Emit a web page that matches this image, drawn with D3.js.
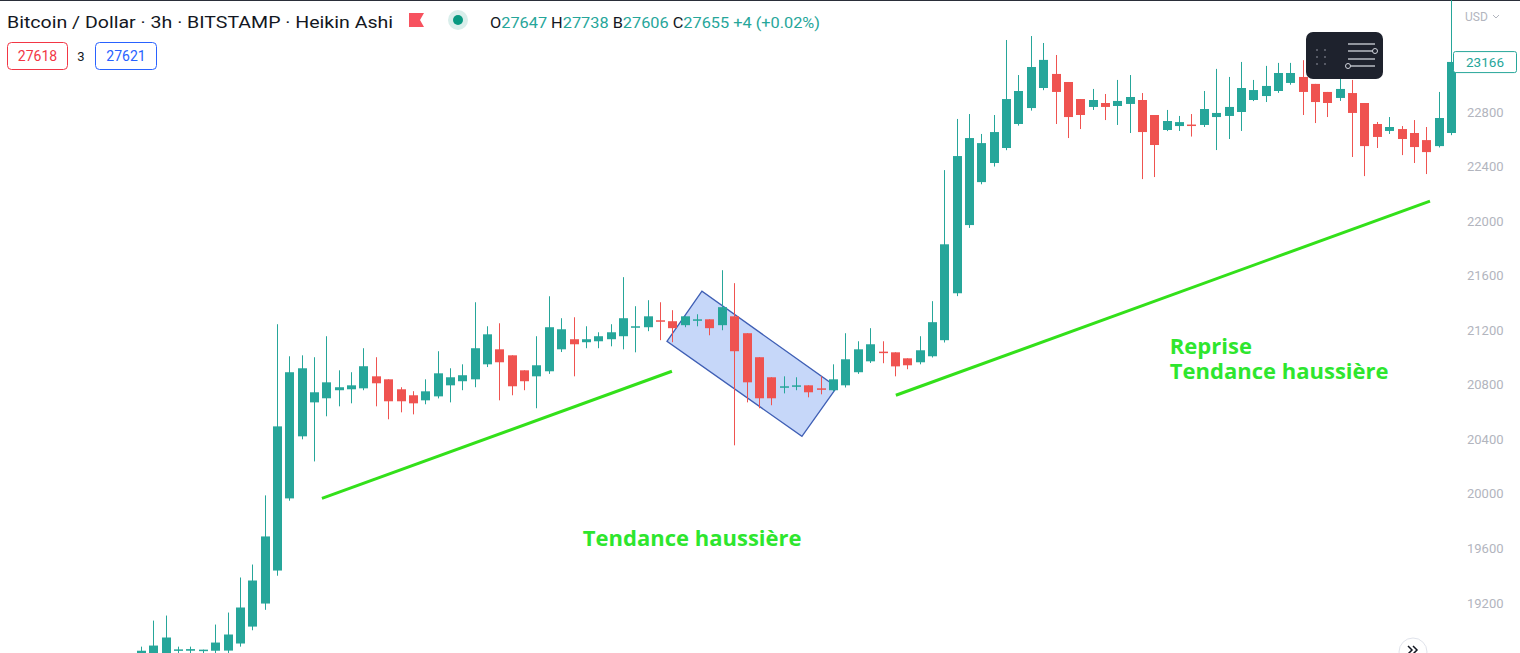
<!DOCTYPE html>
<html><head><meta charset="utf-8">
<script src="https://cdn.jsdelivr.net/npm/d3@7"></script>
<style>body{margin:0;background:#fff;font-family:"Open Sans",Roboto,sans-serif}</style>
</head><body><svg id="c" width="1520" height="653"></svg>
<script>
// Heikin Ashi candles: [open, close, high, low]
const opens  = [18800,18820,18830,18850,18850,18850,18850,18851,18903,19027,19196,19438,19967,20422,20671,20701,20760,20767,20774,20862,20840,20767,20723,20686,20715,20796,20826,20840,20950,21060,21016,20906,20862,20899,21060,21134,21112,21119,21134,21156,21222,21222,21273,21266,21237,21273,21280,21237,21302,21178,21002,20855,20782,20789,20796,20774,20760,20796,20892,20972,21043,21038,20994,20965,21009,21127,21471,21971,22286,22426,22536,22712,22829,22976,23079,23020,22895,22837,22866,22844,22859,22888,22778,22668,22697,22708,22705,22763,22771,22800,22888,22917,22954,23013,23057,23006,22947,22903,22939,22866,22712,22661,22675,22646,22594,22550,22646];
const closes = [18850,18888,18947,18860,18862,18858,18910,18969,19167,19365,19688,20495,20892,20921,20745,20818,20782,20796,20936,20811,20679,20679,20664,20752,20884,20855,20870,21068,21170,20965,20789,20826,20943,21222,21207,21097,21134,21156,21185,21288,21229,21302,21266,21215,21302,21280,21215,21369,21046,20818,20701,20701,20789,20796,20745,20767,20840,20987,21060,21097,21036,20935,20943,21053,21259,21830,22477,22609,22572,22653,22895,22954,23130,23182,22947,22763,22778,22888,22837,22881,22910,22653,22558,22734,22726,22700,22822,22793,22837,22976,22961,22991,23086,23086,22947,22873,22866,22969,22793,22550,22617,22690,22602,22543,22506,22756,23167];
const highs  = [18880,19071,19108,18880,18880,18858,19042,19130,19387,19482,19989,21244,21009,21016,21002,21156,20906,20892,21068,21002,20840,20782,20753,20840,21046,20921,20950,21405,21229,21251,21016,20906,21156,21449,21288,21295,21229,21185,21244,21589,21376,21420,21405,21347,21302,21317,21280,21640,21545,21178,21002,20855,20862,20855,20796,20862,20950,21178,21119,21215,21119,21038,20994,21156,21413,22374,22749,22785,22639,22778,23328,23071,23357,23306,23218,23020,22895,22969,22932,23035,23071,22939,22778,22815,22771,22785,22954,23116,23057,23167,23035,23138,23160,23160,23180,23006,22947,23071,23035,22866,22727,22763,22697,22741,22690,22947,23620];
const lows   = [18700,18780,18800,18800,18800,18800,18800,18800,18880,19000,19150,19400,19950,20400,20238,20569,20642,20664,20760,20642,20547,20598,20583,20657,20700,20671,20760,20782,20930,20686,20723,20760,20628,20880,21040,20862,21068,21068,21082,21060,21038,21193,21127,21112,21222,21229,21163,21200,20356,20671,20628,20650,20737,20760,20708,20730,20750,20780,20880,20960,20958,20862,20914,20950,21000,21110,21450,21950,22270,22400,22520,22700,22810,22960,22712,22609,22675,22815,22741,22705,22646,22308,22323,22660,22661,22620,22690,22521,22602,22661,22880,22873,22940,23000,22778,22719,22763,22881,22470,22330,22536,22639,22484,22426,22345,22540,22630];
const yTicks = [22800,22400,22000,21600,21200,20800,20400,20000,19600,19200];
const lastPrice = 23166;
// annotations in (candle index, price)
const trend1 = [[14.64,19967],[42.96,20899]];
const trend2 = [[61.08,20723],[104.3,22147]];
const boxPts = [[45.39,21486],[42.56,21119],[53.48,20422],[56.31,20782]];
const labels = [{t:"Tendance haussière",i:44.6,p:19616,a:"middle"},{t:"Reprise",i:83.25,p:21026,a:"start"},{t:"Tendance haussière",i:83.25,p:20843,a:"start"}];

const svg = d3.select("#c");
const up="#26a69a", dn="#ef5350";
const x = d3.scaleLinear().domain([0,106]).range([141,1451]);
const y = d3.scaleLinear().domain([22800,19200]).range([112,603]);
const cw = 9;
svg.append("line").attr("x1",0).attr("x2",1520).attr("y1",0.5).attr("y2",0.5).attr("stroke","#2a2e39");

// box (below candles)
svg.append("polygon").attr("points",boxPts.map(d=>[x(d[0]),y(d[1])].join(",")).join(" "))
  .attr("fill","rgba(120,160,240,0.42)").attr("stroke","#3f5fb5").attr("stroke-width",1.3);

const g = svg.append("g");
opens.forEach((o,i)=>{
  const c=closes[i], col = c>=o?up:dn, cx=Math.round(x(i))+0.5;
  g.append("line").attr("x1",cx).attr("x2",cx).attr("y1",y(highs[i])).attr("y2",y(lows[i])).attr("stroke",col).attr("stroke-width",1);
  const t=y(Math.max(o,c)), b=y(Math.min(o,c));
  g.append("rect").attr("x",cx-cw/2).attr("y",t).attr("width",cw).attr("height",Math.max(1.5,b-t)).attr("fill",col);
});
const ln=d3.line().x(d=>x(d[0])).y(d=>y(d[1]));
[trend1,trend2].forEach(t=>svg.append("path").attr("d",ln(t)).attr("stroke","#33e01a").attr("stroke-width",3).attr("fill","none"));
labels.forEach(l=>svg.append("text").attr("x",x(l.i)).attr("y",y(l.p)).attr("text-anchor",l.a)
  .attr("fill","#2ee62e").attr("font-size",22).attr("font-weight","bold").attr("font-family","Open Sans, sans-serif").text(l.t));

// axis
const ax = svg.append("g");
yTicks.forEach(v=>ax.append("text").attr("x",1467).attr("y",y(v)+4.5).attr("fill","#b2b5be").attr("font-size",13).attr("font-family","Roboto,sans-serif").text(v));
ax.append("text").attr("x",1465).attr("y",21).attr("fill","#b2b5be").attr("font-size",12).attr("font-family","Roboto,sans-serif").text("USD");
ax.append("path").attr("d","M1493,15 l3,3 l3,-3").attr("stroke","#b2b5be").attr("fill","none");
ax.append("rect").attr("x",1453.5).attr("y",y(lastPrice)-10.5).attr("width",63).attr("height",21).attr("rx",2).attr("fill","#fff").attr("stroke",up);
ax.append("text").attr("x",1485).attr("y",y(lastPrice)+5).attr("text-anchor","middle").attr("fill",up).attr("font-size",13.5).attr("font-family","Roboto,sans-serif").text(lastPrice);

// header
svg.append("text").attr("x",7).attr("y",28).attr("font-size",17).attr("textLength",386).attr("lengthAdjust","spacingAndGlyphs")
  .attr("font-family","Roboto,sans-serif").attr("fill","#131722").text("Bitcoin / Dollar · 3h · BITSTAMP · Heikin Ashi");
svg.append("path").attr("d","M409,13 h15 l-4,7 l4,7 h-15z").attr("fill","#f7525f");
svg.append("circle").attr("cx",458).attr("cy",20).attr("r",10).attr("fill","#d9eeeb");
svg.append("circle").attr("cx",458).attr("cy",20).attr("r",5).attr("fill","#089981");
const ohlc = svg.append("text").attr("x",490).attr("y",28).attr("font-size",15).attr("textLength",330).attr("lengthAdjust","spacingAndGlyphs").attr("font-family","Roboto,sans-serif");
[["O","#131722"],["27647",up],[" H","#131722"],["27738",up],[" B","#131722"],["27606",up],[" C","#131722"],["27655",up],[" +4 (+0.02%)",up]]
  .forEach(s=>ohlc.append("tspan").attr("fill",s[1]).text(s[0]));
svg.append("rect").attr("x",7.5).attr("y",42.5).attr("width",60).attr("height",27).attr("rx",4).attr("fill","#fff").attr("stroke","#f23645");
svg.append("text").attr("x",37.5).attr("y",61).attr("text-anchor","middle").attr("fill","#f23645").attr("font-size",14).attr("font-family","Roboto,sans-serif").text("27618");
svg.append("text").attr("x",81).attr("y",61).attr("text-anchor","middle").attr("fill","#131722").attr("font-size",13).attr("font-family","Roboto,sans-serif").text("3");
svg.append("rect").attr("x",95.5).attr("y",42.5).attr("width",61).attr("height",27).attr("rx",4).attr("fill","#fff").attr("stroke","#2962ff");
svg.append("text").attr("x",126).attr("y",61).attr("text-anchor","middle").attr("fill","#2962ff").attr("font-size",14).attr("font-family","Roboto,sans-serif").text("27621");

// toolbar widget
const tb = svg.append("g");
tb.append("rect").attr("x",1306).attr("y",32).attr("width",77).attr("height",47).attr("rx",7).attr("fill","#1e222d");
[[1317,50],[1325,50],[1317,57],[1325,57],[1317,64],[1325,64]].forEach(p=>tb.append("circle").attr("cx",p[0]).attr("cy",p[1]).attr("r",1).attr("fill","#6a6d78"));
[[44],[51],[59],[66]].forEach(r=>tb.append("line").attr("x1",1348).attr("x2",1375).attr("y1",r[0]).attr("y2",r[0]).attr("stroke","#d1d4dc").attr("stroke-width",1.3));
tb.append("circle").attr("cx",1375).attr("cy",51).attr("r",2.5).attr("fill","#1e222d").attr("stroke","#d1d4dc");
tb.append("circle").attr("cx",1348).attr("cy",66).attr("r",2.5).attr("fill","#1e222d").attr("stroke","#d1d4dc");
// scroll button
svg.append("circle").attr("cx",1413).attr("cy",652).attr("r",14).attr("fill","#fff").attr("stroke","#e0e3eb");
svg.append("path").attr("d","M1408,646 l4,4 l-4,4 M1413,646 l4,4 l-4,4").attr("stroke","#131722").attr("stroke-width",1.5).attr("fill","none");
</script></body></html>
